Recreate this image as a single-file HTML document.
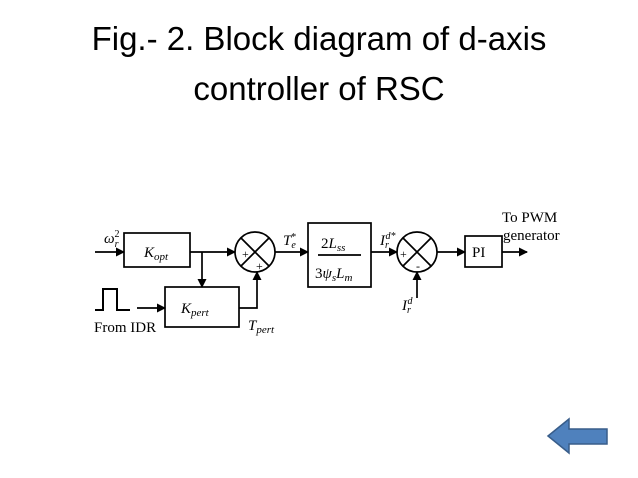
<!DOCTYPE html>
<html><head><style>
body{margin:0;background:#fff;width:638px;height:478px;overflow:hidden;position:relative}
.t{position:absolute;width:638px;text-align:center;font-family:"Liberation Sans",sans-serif;font-size:33px;color:#000}
</style></head><body>
<div class="t" style="top:20px">Fig.- 2. Block diagram of d-axis</div>
<div class="t" style="top:70px">controller of RSC</div>
<svg width="638" height="478" style="position:absolute;left:0;top:0" font-family="Liberation Serif,serif">
<defs><marker id="a" markerWidth="9" markerHeight="9" refX="8" refY="4.5" orient="auto" markerUnits="userSpaceOnUse"><path d="M0,0L9,4.5L0,9z" fill="#000"/></marker></defs>
<g stroke="#000" stroke-width="1.7" fill="none">
<rect x="124" y="233" width="66" height="34"/>
<rect x="165" y="287" width="74" height="40"/>
<rect x="308" y="223" width="63" height="64"/>
<rect x="465" y="236" width="37" height="31"/>
<circle cx="255" cy="252" r="20"/>
<circle cx="417" cy="252" r="20"/>
<path d="M241,238L269,266M269,238L241,266M403,238L431,266M431,238L403,266"/>
<path d="M95,252H124" marker-end="url(#a)"/>
<path d="M190,252H235" marker-end="url(#a)"/>
<path d="M202,252V287" marker-end="url(#a)"/>
<path d="M137,308H165" marker-end="url(#a)"/>
<path d="M239,308H257V272" marker-end="url(#a)"/>
<path d="M275,252H308" marker-end="url(#a)"/>
<path d="M371,252H397" marker-end="url(#a)"/>
<path d="M437,252H465" marker-end="url(#a)"/>
<path d="M502,252H527" marker-end="url(#a)"/>
<path d="M417,298V272" marker-end="url(#a)"/>
<path d="M95,310H103V289H117V310H130" stroke-width="2"/>
<path d="M318,255H361"/>
</g>
<g font-size="15" font-style="italic">
<text x="104" y="243">ω<tspan font-size="10" dy="4">r</tspan><tspan font-size="10" dx="-4" dy="-10" font-style="normal">2</tspan></text>
<text x="144" y="257">K<tspan font-size="11" dy="3">opt</tspan></text>
<text x="181" y="313">K<tspan font-size="11" dy="3">pert</tspan></text>
<text x="248" y="330">T<tspan font-size="11" dy="3">pert</tspan></text>
<text x="283" y="245">T<tspan font-size="10" dy="3">e</tspan><tspan font-size="10" dx="-5" dy="-8">*</tspan></text>
<text x="321" y="248" font-style="normal">2<tspan font-style="italic">L</tspan><tspan font-size="11" dy="3" font-style="italic">ss</tspan></text>
<text x="315" y="278" font-style="normal">3<tspan font-style="italic">ψ</tspan><tspan font-size="11" dy="3" font-style="italic">s</tspan><tspan font-style="italic" dy="-3">L</tspan><tspan font-size="11" dy="3" font-style="italic">m</tspan></text>
<text x="380" y="245">I<tspan font-size="10" dy="3">r</tspan><tspan font-size="10" dx="-3" dy="-9">d*</tspan></text>
<text x="402" y="310">I<tspan font-size="10" dy="3">r</tspan><tspan font-size="10" dx="-3" dy="-9">d</tspan></text>
</g>
<g font-size="12">
<text x="242" y="258">+</text><text x="256" y="270">+</text>
<text x="400" y="258">+</text><text x="416" y="270">-</text>
</g>
<g font-size="15">
<text x="472" y="257">PI</text>
<text x="502" y="222">To PWM</text>
<text x="503" y="240">generator</text>
<text x="94" y="332">From IDR</text>
</g>
<polygon points="548,436 569,419 569,429 607,429 607,444 569,444 569,453" fill="#4f81bd" stroke="#385d8a" stroke-width="1.5"/>
</svg>
</body></html>
